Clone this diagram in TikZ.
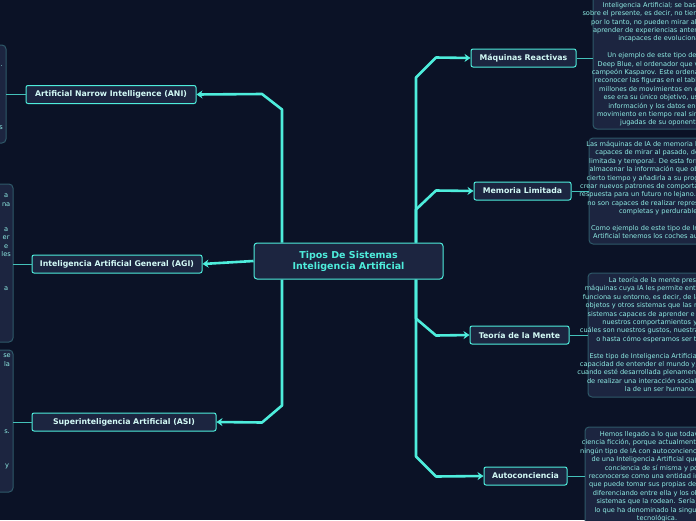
\documentclass[tikz,border=0pt]{standalone}
\usepackage{fontspec}
\setmainfont{DejaVu Sans}
\usetikzlibrary{arrows.meta}
\definecolor{bg}{HTML}{0B1226}
\definecolor{boxf}{HTML}{1C2540}
\definecolor{boxd}{HTML}{2E5868}
\definecolor{cy}{HTML}{4EEDDC}
\definecolor{tx}{HTML}{8FEDE5}
\tikzset{
 conn/.style={cy,line width=2.6pt,-{Stealth[length=6pt,width=8pt]},line join=round},
 thin/.style={cy!70!boxd,line width=1pt},
 topic/.style={draw=cy,fill=boxf,line width=1pt,rounded corners=2pt,text=cy!25!white,font=\fontsize{7.8}{9}\selectfont\bfseries,inner sep=2pt,minimum height=18pt},
 desc/.style={draw=boxd,fill=boxf,line width=1pt,rounded corners=4pt},
 dtext/.style={text=tx,font=\fontsize{6.6}{8.4}\selectfont,align=center,inner sep=0},
}
\begin{document}
\begin{tikzpicture}[x=1pt,y=-1pt]
\useasboundingbox (0,0) rectangle (696,520);
\fill[bg] (0,0) rectangle (696,520);
\clip (0,0) rectangle (696,520);
% center
\node[draw=cy,fill=boxf,line width=1pt,rounded corners=3pt,minimum width=189pt,minimum height=36pt,text=cy,font=\fontsize{9.5}{11}\selectfont\bfseries,align=center] (c) at (348.5,261) {Tipos De Sistemas\\Inteligencia Artificial};
% right topics
\node[topic,minimum width=105pt] (mr) at (523.5,58) {Máquinas Reactivas};
\node[topic,minimum width=97pt] (ml) at (522.5,191) {Memoria Limitada};
\node[topic,minimum width=99pt] (tm) at (519.5,335) {Teoría de la Mente};
\node[topic,minimum width=83pt] (ac) at (525.5,476) {Autoconciencia};
% left topics
\node[topic,minimum width=170pt] (ani) at (111,94.5) {Artificial Narrow Intelligence (ANI)};
\node[topic,minimum width=170pt] (agi) at (117,264) {Inteligencia Artificial General (AGI)};
\node[topic,minimum width=184pt] (asi) at (124,422) {Superinteligencia Artificial (ASI)};
% description boxes right
\draw[desc] (593,-10) rectangle (720,129); \coordinate (d1) at (593,58);
\draw[desc] (589,138) rectangle (720,244); \coordinate (d2) at (589,191);
\draw[desc] (588,273) rectangle (720,397); \coordinate (d3) at (588,335);
\draw[desc] (585,427) rectangle (720,530); \coordinate (d4) at (585,476);
\node[dtext,anchor=north] (t1) at (661,2) {Inteligencia Artificial; se basan solo\\sobre el presente, es decir, no tienen memoria,\\por lo tanto, no pueden mirar al pasado ni\\aprender de experiencias anteriores, son\\incapaces de evolucionar.\\[8.4pt]Un ejemplo de este tipo de IA es\\Deep Blue, el ordenador que venció al\\campeón Kasparov. Este ordenador podía\\reconocer las figuras en el tablero y sus\\millones de movimientos en el juego,\\ese era su único objetivo, usaba la\\información y los datos en cada\\movimiento en tiempo real sin evaluar\\jugadas de su oponente.};
\node[dtext,anchor=north] (t2) at (661,141) {Las máquinas de IA de memoria limitada son\\capaces de mirar al pasado, de manera\\limitada y temporal. De esta forma pueden\\almacenar la información que obtienen por\\cierto tiempo y añadirla a su programación y\\crear nuevos patrones de comportamiento como\\respuesta para un futuro no lejano. Sin embargo,\\no son capaces de realizar representaciones\\completas y perdurables.\\[8.4pt]Como ejemplo de este tipo de Inteligencia\\Artificial tenemos los coches autónomos.};
\node[dtext,anchor=north] (t3) at (660,277) {La teoría de la mente presenta\\máquinas cuya IA les permite entender cómo\\funciona su entorno, es decir, de las personas,\\objetos y otros sistemas que las rodean. Son\\sistemas capaces de aprender e interpretar\\nuestros comportamientos y saber\\cuáles son nuestros gustos, nuestras emociones\\o hasta cómo esperamos ser tratados.\\[8.4pt]Este tipo de Inteligencia Artificial tendrá la\\capacidad de entender el mundo y, por lo tanto,\\cuando esté desarrollada plenamente, será capaz\\de realizar una interacción social parecida a\\la de un ser humano.};
\node[dtext,anchor=north] (t4) at (657,431) {Hemos llegado a lo que todavía es\\ciencia ficción, porque actualmente no existe\\ningún tipo de IA con autoconciencia. Se trata\\de una Inteligencia Artificial que tendrá\\conciencia de sí misma y podrá\\reconocerse como una entidad individual\\que puede tomar sus propias decisiones,\\diferenciando entre ella y los objetos y\\sistemas que la rodean. Sería, pues,\\lo que ha denominado la singularidad\\tecnológica.};
% description boxes left (cut)
\draw[desc] (-20,45) rectangle (6,143); \coordinate (e1) at (6,94.5);
\draw[desc] (-20,184) rectangle (13,342); \coordinate (e2) at (13,264);
\draw[desc] (-20,350) rectangle (13,492); \coordinate (e3) at (13,422);
\node[dtext,anchor=east] (f1) at (3,66) {.};
\node[dtext,anchor=east] (f2) at (3,128) {s};
\node[dtext,anchor=north east] (f3) at (11,194) {a\\na\\[16.8pt]a\\er\\e\\les\\[16.8pt]\\a};
\node[dtext,anchor=north east] (f4) at (11,354) {se\\la\\[58.8pt]s.\\[25.2pt]y};
% thin connectors
\draw[thin] (mr.east) -- (d1);
\draw[thin] (ml.east) -- (d2);
\draw[thin] (tm.east) -- (d3);
\draw[thin] (ac.east) -- (d4);
\draw[thin] (ani.west) -- (e1);
\draw[thin] (agi.west) -- (e2);
\draw[thin] (asi.west) -- (e3);
% main connectors
\draw[conn] ([xshift=67.5pt]c.north) -- ++(0,-165) -- ++(20,-20) -- (mr.west);
\draw[conn] ([xshift=67.5pt]c.north) -- ++(0,-33) -- ++(20,-19) -- (ml.west);
\draw[conn] ([xshift=67.5pt]c.south) -- ++(0,39) -- ++(20,17) -- (tm.west);
\draw[conn] ([xshift=67.5pt]c.south) -- ++(0,177) -- ++(20,20) -- (ac.west);
\draw[conn] ([xshift=-66.5pt]c.north) -- ++(0,-133) -- ++(-20,-15.5) -- (ani.east);
\draw[conn] (c.west) -- (agi.east);
\draw[conn] ([xshift=-66.5pt]c.south) -- ++(0,126) -- ++(-20,17) -- (asi.east);
\end{tikzpicture}
\end{document}
